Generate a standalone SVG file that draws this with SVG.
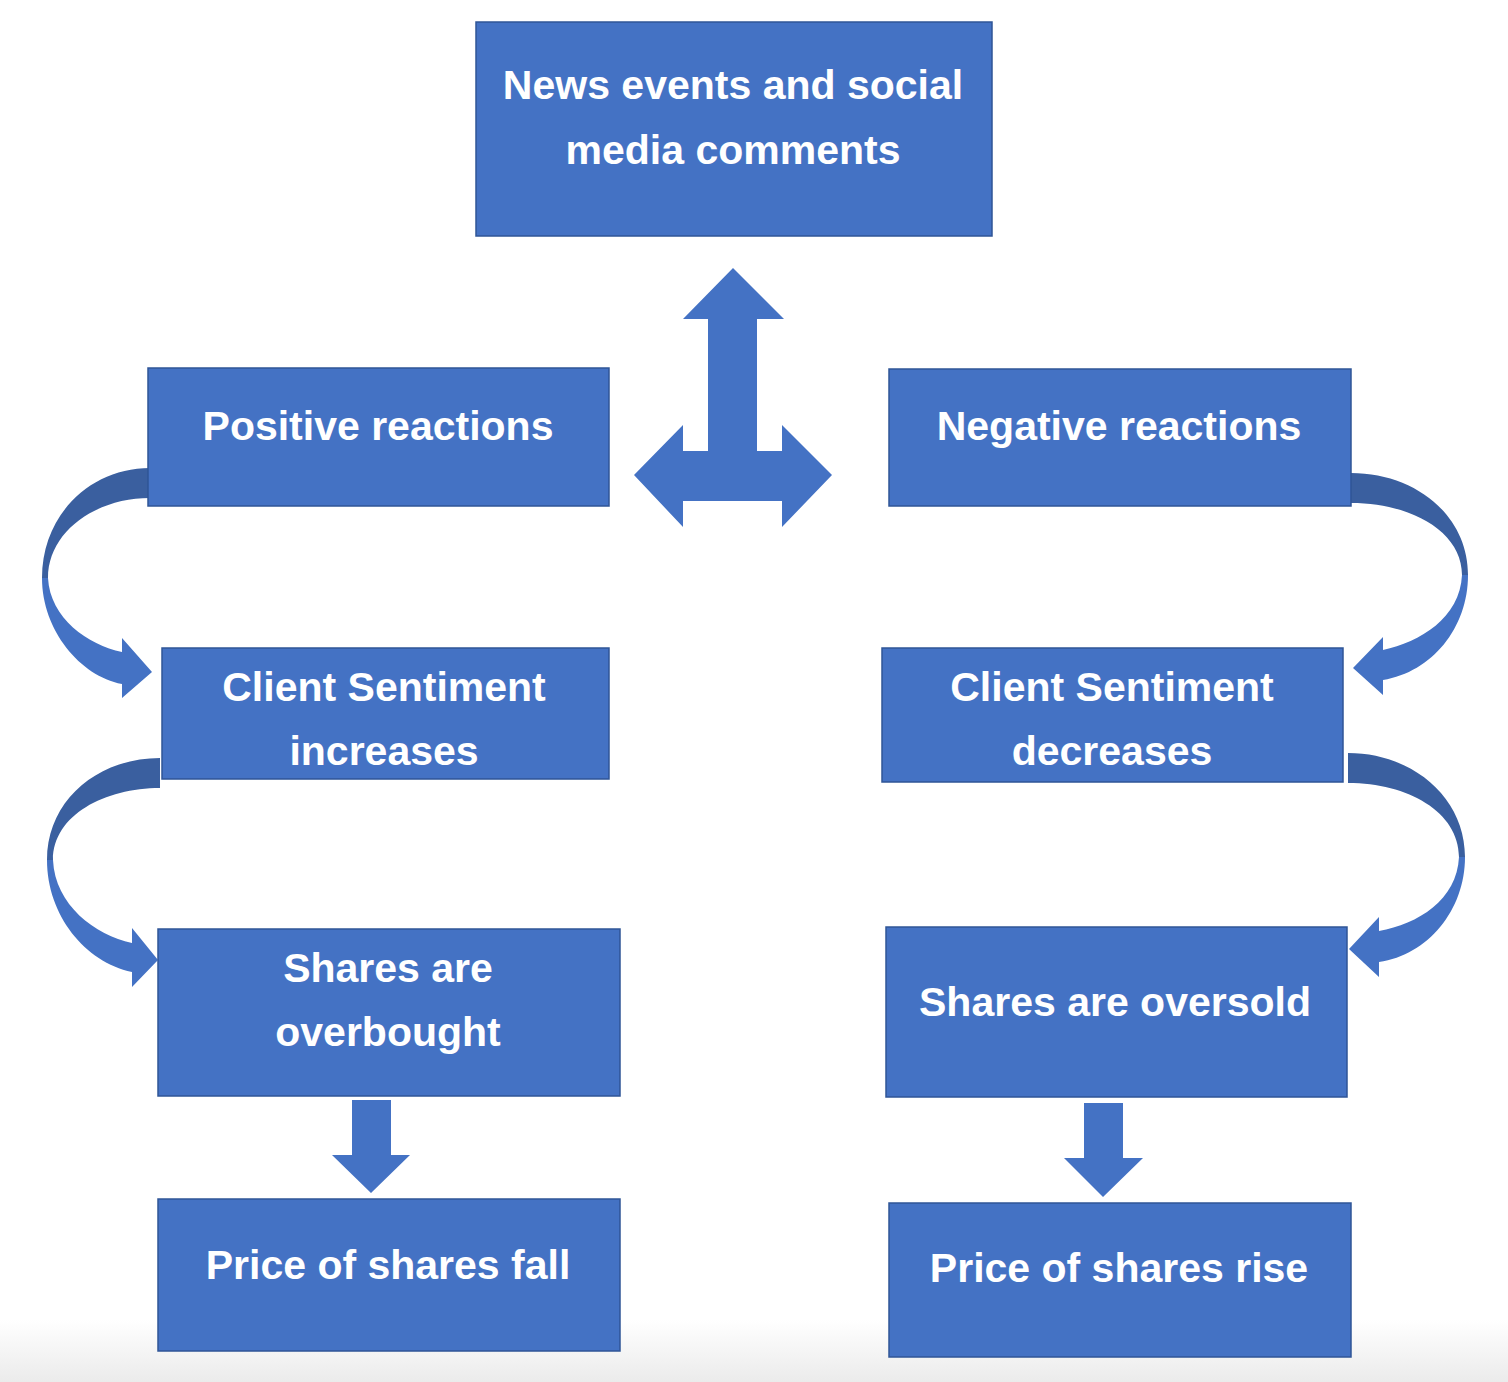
<svg xmlns="http://www.w3.org/2000/svg" width="1508" height="1382" viewBox="0 0 1508 1382">
<defs>
<linearGradient id="bg" x1="0" y1="0" x2="0" y2="1">
<stop offset="0" stop-color="#ffffff"/>
<stop offset="0.955" stop-color="#ffffff"/>
<stop offset="1" stop-color="#ebebeb"/>
</linearGradient>
<style>
.box{fill:#4472C4;stroke:#2F5597;stroke-width:1.5}
.lbl{font-family:"Liberation Sans",Arial,sans-serif;font-weight:bold;font-size:41px;fill:#ffffff;text-anchor:middle}
.arr{fill:#4472C4}
.back{fill:#3A5F9F}
</style>
</defs>
<rect x="0" y="0" width="1508" height="1382" fill="url(#bg)"/>

<g id="connectors">
<path class="arr" d="M733,268 L784,319 L757,319 L757,451 L782,451 L782,425 L832,475 L782,527 L782,501 L683,501 L683,527 L634,475 L683,425 L683,451 L708,451 L708,319 L683,319 Z"/>
<path class="back" d="M150,468 C90,468 42,515 42,578 L48,578 C48,532 95,498 150,498 Z"/>
<path class="arr" d="M42,578 C42,630 80,676 122,684 L122,698 L152,672 L122,638 L122,652 C88,645 50,618 48,578 Z"/>
<path class="back" d="M1351,473 C1415,473 1468,515 1468,575 L1462,575 C1462,532 1412,503 1351,503 Z"/>
<path class="arr" d="M1468,575 C1468,628 1432,672 1383,680 L1383,695 L1353,668 L1383,637 L1383,650 C1420,642 1460,618 1462,575 Z"/>
<path class="back" d="M160,758 C98,758 47,800 47,860 L53,860 C53,815 105,788 160,788 Z"/>
<path class="arr" d="M47,860 C47,915 85,962 132,972 L132,987 L158,960 L132,928 L132,943 C95,935 55,905 53,860 Z"/>
<path class="back" d="M1348,753 C1412,753 1465,797 1465,857 L1459,857 C1459,812 1408,783 1348,783 Z"/>
<path class="arr" d="M1465,857 C1465,910 1428,955 1379,962 L1379,977 L1349,949 L1379,917 L1379,931 C1418,924 1457,900 1459,857 Z"/>
<path class="arr" d="M352,1100 L391,1100 L391,1155 L410,1155 L371,1193 L332,1155 L352,1155 Z"/>
<path class="arr" d="M1084,1103 L1123,1103 L1123,1158 L1143,1158 L1103,1197 L1064,1158 L1084,1158 Z"/>
</g>

<g id="news">
<rect class="box" x="476" y="22" width="516" height="214"/>
<text class="lbl" x="733" y="99">News events and social</text>
<text class="lbl" x="733" y="164">media comments</text>
</g>
<g id="positive">
<rect class="box" x="148" y="368" width="461" height="138"/>
<text class="lbl" x="378" y="440">Positive reactions</text>
</g>
<g id="negative">
<rect class="box" x="889" y="369" width="462" height="137"/>
<text class="lbl" x="1119" y="440">Negative reactions</text>
</g>
<g id="sentiment-increases">
<rect class="box" x="162" y="648" width="447" height="131"/>
<text class="lbl" x="384" y="701">Client Sentiment</text>
<text class="lbl" x="384" y="765">increases</text>
</g>
<g id="sentiment-decreases">
<rect class="box" x="882" y="648" width="461" height="134"/>
<text class="lbl" x="1112" y="701">Client Sentiment</text>
<text class="lbl" x="1112" y="765">decreases</text>
</g>
<g id="overbought">
<rect class="box" x="158" y="929" width="462" height="167"/>
<text class="lbl" x="388" y="982">Shares are</text>
<text class="lbl" x="388" y="1046">overbought</text>
</g>
<g id="oversold">
<rect class="box" x="886" y="927" width="461" height="170"/>
<text class="lbl" x="1115" y="1016">Shares are oversold</text>
</g>
<g id="price-fall">
<rect class="box" x="158" y="1199" width="462" height="152"/>
<text class="lbl" x="388" y="1279">Price of shares fall</text>
</g>
<g id="price-rise">
<rect class="box" x="889" y="1203" width="462" height="154"/>
<text class="lbl" x="1119" y="1282">Price of shares rise</text>
</g>
</svg>
